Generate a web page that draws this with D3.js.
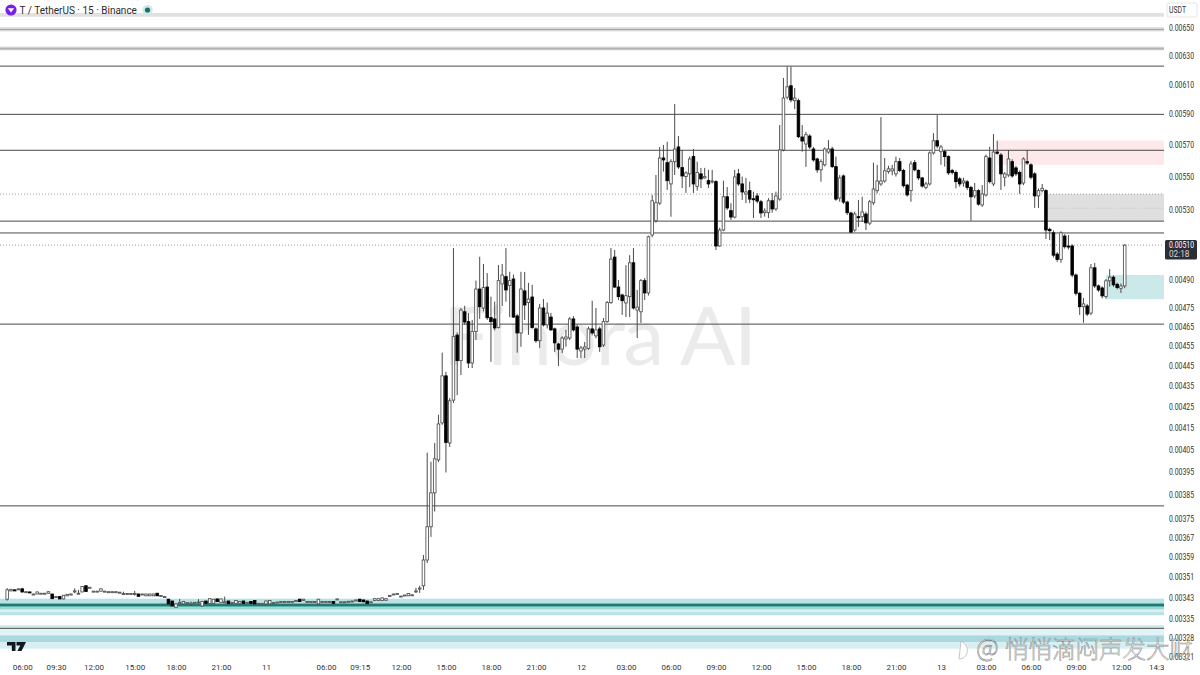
<!DOCTYPE html>
<html>
<head>
<meta charset="utf-8">
<script src="https://cdn.jsdelivr.net/npm/d3@7/dist/d3.min.js"></script>
<style>
html,body{margin:0;padding:0;background:#fff;overflow:hidden}
svg{display:block}
text{font-family:Roboto,"Noto Sans",sans-serif}
</style>
</head>
<body>
<svg id="chart" width="1200" height="675"></svg>
<script>
// Prices are given in millionths of a USDT.
const PRICE_UNIT = 1e-6;

const opens = [
3425,3457,3461,3464,3465,3454,3453,3445,3445,3448,
3448,3448,3445,3435,3435,3426,3438,3445,3456,3447,
3453,3477,3471,3456,3456,3456,3456,3454,3454,3454,
3452,3447,3447,3447,3447,3445,3445,3438,3438,3438,
3448,3439,3435,3425,3418,3394,3408,3407,3412,3410,
3413,3414,3399,3418,3409,3409,3426,3413,3415,3418,
3412,3409,3409,3418,3413,3416,3420,3409,3409,3407,
3407,3412,3414,3416,3416,3416,3416,3420,3425,3420,
3416,3416,3416,3407,3416,3416,3416,3416,3426,3415,
3415,3417,3418,3422,3425,3422,3418,3415,3420,3420,
3420,3421,3439,3445,3447,3437,3441,3438,3442,3456,
3467,3477,3579,3715,3859,4004,4174,4400,4081,4282,
4606,4476,4728,4676,4464,4624,4850,4748,4861,4697,
4690,4645,4878,4918,4869,4905,4706,4617,4840,4777,
4807,4638,4577,4748,4659,4700,4638,4560,4534,4586,
4591,4690,4648,4525,4534,4538,4638,4602,4638,4555,
4676,4777,5027,4861,4818,4775,4809,4995,4737,4728,
4896,4829,5153,5236,5341,5618,5589,5457,5595,5688,
5558,5502,5519,5627,5442,5519,5494,5477,5470,5471,
5090,5182,5379,5296,5258,5519,5457,5396,5416,5367,
5384,5349,5284,5284,5355,5306,5365,5669,6015,6092,
5991,5991,5752,5707,5758,5675,5612,5544,5575,5656,
5675,5564,5371,5506,5347,5282,5182,5260,5260,5276,
5222,5343,5416,5457,5475,5533,5538,5519,5595,5540,
5450,5416,5589,5540,5494,5436,5457,5650,5728,5658,
5658,5627,5540,5528,5488,5463,5470,5436,5384,5416,
5330,5390,5618,5457,5656,5637,5498,5512,5595,5556,
5528,5463,5595,5575,5519,5384,5416,5416,5186,5166,
5044,5014,5147,5090,5090,4927,4827,4755,4759,4721,
4967,4867,4856,4809,4895,4915,4876,4854,4867];

const highs = [
3468,3465,3463,3466,3468,3456,3454,3446,3454,3449,
3449,3455,3446,3436,3436,3441,3445,3446,3467,3461,
3476,3478,3472,3457,3457,3466,3457,3455,3455,3455,
3453,3454,3448,3448,3457,3446,3446,3446,3446,3446,
3449,3440,3436,3426,3419,3408,3426,3417,3413,3416,
3414,3425,3417,3419,3428,3426,3427,3427,3435,3419,
3413,3421,3417,3419,3414,3417,3421,3410,3410,3419,
3421,3413,3415,3417,3417,3417,3417,3421,3426,3426,
3417,3417,3417,3426,3417,3417,3417,3417,3427,3416,
3416,3418,3419,3423,3426,3423,3419,3416,3428,3428,
3431,3428,3440,3446,3448,3438,3442,3448,3443,3469,
3477,3599,4037,3996,4081,4212,4516,4420,4292,5078,
4620,4748,4760,4721,4685,4896,5029,4988,4938,4809,
4782,4982,4988,5078,4945,4930,4715,4945,4944,4884,
4873,4645,4770,4796,4777,4722,4645,4566,4600,4633,
4700,4705,4660,4550,4571,4650,4787,4748,4650,4695,
4785,5078,5067,4900,4825,4982,5038,5078,4845,4905,
4910,5150,5389,5512,5688,5701,5721,5610,5969,5758,
5669,5535,5627,5675,5595,5556,5556,5544,5544,5480,
5195,5477,5438,5340,5544,5550,5502,5494,5471,5410,
5402,5360,5310,5371,5402,5410,5830,6146,6225,6225,
6077,6005,5830,5785,5770,5688,5620,5610,5685,5732,
5690,5627,5512,5515,5355,5290,5290,5359,5379,5290,
5360,5589,5575,5882,5618,5570,5575,5627,5618,5550,
5458,5600,5606,5548,5500,5470,5660,5777,5895,5701,
5670,5635,5550,5540,5500,5495,5480,5445,5463,5425,
5450,5640,5690,5771,5728,5650,5530,5669,5610,5570,
5540,5622,5669,5585,5530,5430,5457,5425,5195,5180,
5055,5175,5158,5153,5100,4935,4835,4802,4770,4988,
4994,4875,4865,4905,4960,4925,4885,4880,5100];

const lows = [
3420,3456,3459,3463,3450,3453,3451,3444,3444,3447,
3447,3447,3426,3434,3425,3425,3437,3444,3448,3445,
3452,3455,3470,3455,3455,3455,3455,3453,3453,3453,
3451,3442,3446,3446,3439,3436,3444,3437,3437,3437,
3437,3438,3434,3407,3399,3394,3405,3406,3411,3399,
3412,3407,3398,3408,3408,3408,3415,3412,3413,3407,
3411,3408,3408,3408,3412,3408,3406,3408,3408,3406,
3406,3411,3413,3415,3415,3415,3415,3419,3415,3419,
3415,3415,3415,3406,3415,3415,3415,3408,3425,3414,
3414,3416,3417,3421,3415,3414,3407,3414,3419,3419,
3419,3420,3438,3444,3446,3436,3440,3437,3441,3449,
3449,3461,3567,3673,3779,3995,4165,3948,4063,4268,
4306,4404,4660,4439,4439,4581,4690,4730,4685,4470,
4630,4640,4759,4782,4700,4695,4516,4546,4685,4607,
4640,4566,4540,4650,4640,4628,4520,4449,4514,4546,
4580,4625,4489,4489,4489,4530,4605,4590,4520,4545,
4670,4770,4855,4791,4711,4700,4700,4740,4591,4669,
4791,4815,5140,5225,5330,5533,5420,5260,5512,5550,
5432,5402,5438,5402,5416,5432,5490,5432,5460,5067,
5085,5175,5300,5240,5250,5445,5359,5341,5341,5252,
5340,5252,5260,5252,5284,5295,5355,5660,6000,5980,
5935,5745,5658,5562,5675,5595,5525,5471,5565,5645,
5555,5355,5349,5335,5270,5165,5172,5200,5230,5182,
5210,5330,5400,5445,5465,5520,5510,5502,5530,5435,
5380,5349,5535,5480,5435,5425,5448,5640,5680,5575,
5564,5512,5515,5430,5440,5440,5420,5236,5370,5325,
5318,5380,5460,5444,5640,5420,5442,5500,5495,5505,
5396,5450,5575,5485,5312,5312,5405,5130,5124,5025,
5000,4995,5075,5070,4915,4815,4711,4670,4705,4710,
4855,4835,4800,4798,4863,4862,4848,4829,4855];

const closes = [
3461,3463,3460,3465,3453,3454,3452,3445,3453,3448,
3448,3454,3427,3435,3426,3440,3444,3445,3457,3448,
3474,3455,3471,3456,3456,3465,3456,3454,3454,3454,
3452,3447,3447,3447,3447,3436,3445,3445,3445,3445,
3438,3439,3435,3407,3399,3407,3412,3416,3412,3410,
3413,3414,3416,3409,3427,3425,3416,3426,3415,3408,
3412,3420,3416,3409,3413,3409,3407,3409,3409,3418,
3420,3412,3414,3416,3416,3416,3416,3420,3416,3425,
3416,3416,3416,3425,3416,3416,3416,3409,3426,3415,
3415,3417,3418,3422,3416,3415,3408,3415,3427,3427,
3430,3427,3439,3445,3447,3437,3441,3447,3442,3457,
3468,3579,3715,3859,4009,4169,4400,4083,4279,4598,
4476,4737,4674,4464,4624,4850,4755,4858,4697,4676,
4643,4896,4927,4845,4896,4700,4617,4850,4764,4796,
4645,4577,4748,4659,4721,4633,4566,4534,4591,4596,
4690,4633,4534,4540,4545,4638,4617,4633,4546,4676,
4777,5016,4861,4809,4787,4814,4995,4748,4753,4896,
4829,5143,5355,5343,5618,5606,5477,5595,5675,5562,
5506,5525,5612,5457,5528,5488,5502,5457,5475,5090,
5182,5379,5312,5258,5500,5457,5408,5408,5365,5361,
5353,5282,5294,5355,5306,5384,5669,6009,6085,5996,
6009,5754,5726,5767,5688,5606,5544,5595,5675,5675,
5564,5365,5494,5347,5284,5170,5276,5254,5288,5224,
5349,5426,5475,5475,5538,5550,5550,5595,5540,5446,
5390,5581,5544,5494,5444,5457,5650,5728,5694,5688,
5627,5525,5528,5471,5457,5475,5436,5379,5416,5335,
5396,5627,5471,5656,5648,5519,5519,5612,5506,5519,
5457,5612,5587,5498,5384,5416,5430,5182,5178,5038,
5014,5166,5086,5084,4927,4827,4755,4770,4716,4967,
4867,4845,4813,4895,4915,4873,4858,4867,5095];

const priceTicks = [0.0065,0.0063,0.0061,0.0059,0.0057,0.0055,0.0053,0.0049,0.00475,0.00465,0.00455,0.00445,0.00435,0.00425,0.00415,0.00405,0.00395,0.00385,0.00375,0.00367,0.00359,0.00351,0.00343,0.00335,0.00328,0.00321];
const timeTickBars = [4,13,23,34,45,57,69,85,94,105,117,129,141,153,165,177,189,201,213,225,237,249,261,273,285,297,307];
const timeTickLabels = ["06:00","09:30","12:00","15:00","18:00","21:00","11","06:00","09:15","12:00","15:00","18:00","21:00","12","03:00","06:00","09:00","12:00","15:00","18:00","21:00","13","03:00","06:00","09:00","12:00","14:30"];

const solidLevels = [6228,5900,5667,5234,5165,4663,3803,3315];
const dottedLevels = [5395,5095];
const greyBandTops = [6610,6505,6365];
const greyBandBottoms = [6583,6476,6340];
const greyBandColors = ["#e1e1e1","#d6d6d6","#cfcfcf"];
const greyCoreLevels = [6489,6350];

const tealBandTops = [3427,3410,3395,3385,3376,3327,3315,3289,3264];
const tealBandBottoms = [3410,3395,3385,3376,3364,3315,3289,3264,3240];
const tealBandColors = ["#b8e2e3","#57b5ac","#9fd6d1","#dbf0f2","#bbe1e6","#cfecef","#e2f3f5","#a9d9df","#d8eff2"];
const tealCoreLevels = [3403];

const zoneStartBars = [264,277.5,293];
const zoneTops = [5730,5395,4927];
const zoneBottoms = [5575,5236,4795];
const zoneColors = ["#fde9e9","#dfdfdf","#cbe9e9"];
const greyZoneMidLevel = 5310;

const lastPrice = 0.0051;
const lastPriceLevel = 5095;
const countdown = "02:18";

const PANE_RIGHT = 1164;
const svg = d3.select("#chart");

const x = d3.scaleLinear().domain([0, opens.length - 1]).range([7.2, 1124.7]);
const yPrice = d3.scaleLog().domain([0.0065, 0.00321]).range([28, 657]);
const y = v => yPrice(v * PRICE_UNIT);

svg.append("defs").append("clipPath").attr("id","pane")
  .append("rect").attr("x",0).attr("y",0).attr("width",PANE_RIGHT).attr("height",675);

const pane = svg.append("g").attr("clip-path","url(#pane)");

// Big watermark
pane.append("text").attr("x",443).attr("y",365)
  .attr("font-size",82).attr("fill","#ebebeb")
  .style("font-family","Lato,Roboto,sans-serif").attr("textLength",314)
  .text("Finora AI");

// Grey bands at the top
pane.selectAll(".gb").data(greyBandTops).join("rect")
  .attr("x",0).attr("width",PANE_RIGHT)
  .attr("y",d=>y(d))
  .attr("height",(d,i)=>y(greyBandBottoms[i])-y(d))
  .attr("fill",(d,i)=>greyBandColors[i]);
pane.selectAll(".gc").data(greyCoreLevels).join("line")
  .attr("x1",0).attr("x2",PANE_RIGHT).attr("y1",d=>y(d)).attr("y2",d=>y(d))
  .attr("stroke","#a8a8a8").attr("stroke-width",1);

// Teal bands at the bottom
pane.selectAll(".tb").data(tealBandTops).join("rect")
  .attr("x",0).attr("width",PANE_RIGHT)
  .attr("y",d=>y(d))
  .attr("height",(d,i)=>y(tealBandBottoms[i])-y(d))
  .attr("fill",(d,i)=>tealBandColors[i]);
pane.selectAll(".tc").data(tealCoreLevels).join("line")
  .attr("x1",0).attr("x2",PANE_RIGHT).attr("y1",d=>y(d)).attr("y2",d=>y(d))
  .attr("stroke","#17635c").attr("stroke-width",1.4);

// Zones that start at a bar and extend right
pane.selectAll(".z").data(zoneStartBars).join("rect")
  .attr("x",d=>x(d)).attr("width",d=>PANE_RIGHT-x(d))
  .attr("y",(d,i)=>y(zoneTops[i]))
  .attr("height",(d,i)=>y(zoneBottoms[i])-y(zoneTops[i]))
  .attr("fill",(d,i)=>zoneColors[i]);
pane.append("line").attr("x1",x(zoneStartBars[1])).attr("x2",PANE_RIGHT)
  .attr("y1",y(greyZoneMidLevel)).attr("y2",y(greyZoneMidLevel))
  .attr("stroke","#bdbdbd").attr("stroke-dasharray","1 2").attr("stroke-width",.8);

// Levels
pane.selectAll(".lv").data(solidLevels).join("line")
  .attr("x1",0).attr("x2",PANE_RIGHT).attr("y1",d=>y(d)).attr("y2",d=>y(d))
  .attr("stroke","#4a4a4a").attr("stroke-width",1);
pane.selectAll(".dl").data(dottedLevels).join("line")
  .attr("x1",0).attr("x2",PANE_RIGHT).attr("y1",d=>y(d)).attr("y2",d=>y(d))
  .attr("stroke","#9a9a9a").attr("stroke-width",1).attr("stroke-dasharray","1 2");

// Candles
const bars = pane.append("g").selectAll("g").data(opens).join("g");
bars.append("line")
  .attr("x1",(d,i)=>x(i)).attr("x2",(d,i)=>x(i))
  .attr("y1",(d,i)=>y(highs[i])).attr("y2",(d,i)=>y(lows[i]))
  .attr("stroke","#4a4a4a").attr("stroke-width",1);
bars.append("rect")
  .attr("x",(d,i)=>x(i)-1.3).attr("width",2.6)
  .attr("y",(d,i)=>Math.min(y(opens[i]),y(closes[i])))
  .attr("height",(d,i)=>Math.max(1,Math.abs(y(opens[i])-y(closes[i]))))
  .attr("fill",(d,i)=>closes[i]>=opens[i]?"#ffffff":"#000000")
  .attr("stroke",(d,i)=>closes[i]>=opens[i]?"#4f4f4f":"#000000")
  .attr("stroke-width",.85);

// Time axis
const timeAxis = d3.axisBottom(x).tickValues(timeTickBars)
  .tickFormat((d,i)=>timeTickLabels[i]).tickSize(0).tickPadding(0);
const gx = pane.append("g").attr("transform","translate(0,664)").call(timeAxis);
gx.select(".domain").remove();
gx.selectAll("text").attr("font-size",8).attr("fill","#333").attr("dy","0.32em").attr("y",3.8)
  .style("font-family","Roboto,sans-serif");

// Price axis
const priceAxis = d3.axisRight(yPrice).tickValues(priceTicks)
  .tickFormat(d3.format(".5f")).tickSize(0).tickPadding(0);
const gy = svg.append("g").attr("transform","translate(1169,0)").call(priceAxis);
gy.select(".domain").remove();
gy.selectAll("text").attr("font-size",8.2).attr("fill","#333")
  .attr("textLength",25).attr("lengthAdjust","spacingAndGlyphs")
  .style("font-family","Roboto,sans-serif");

// USDT box
svg.append("rect").attr("x",1167).attr("y",3).attr("width",30).attr("height",14).attr("rx",2)
  .attr("fill","#fff").attr("stroke","#e6e6e6");
svg.append("text").attr("x",1169).attr("y",13).attr("font-size",8.2).attr("fill","#333")
  .attr("textLength",17).attr("lengthAdjust","spacingAndGlyphs").text("USDT");

// Last price label
const ly = y(lastPriceLevel);
svg.append("rect").attr("x",1165).attr("y",ly-5).attr("width",32).attr("height",19.5).attr("rx",1.5).attr("fill","#2a2e39");
svg.append("text").attr("x",1169).attr("y",ly+3).attr("font-size",8.2).attr("fill","#ffffff")
  .attr("textLength",25).attr("lengthAdjust","spacingAndGlyphs").text(d3.format(".5f")(lastPrice));
svg.append("text").attr("x",1169).attr("y",ly+12).attr("font-size",8.2).attr("fill","#d8d8d8").text(countdown);

// Header
svg.append("circle").attr("cx",11).attr("cy",10).attr("r",5.6).attr("fill","#7a1fe6");
svg.append("path").attr("d","M7.8 8.2 H14.2 L11 12.6 Z").attr("fill","#fff");
svg.append("text").attr("x",19.5).attr("y",14).attr("font-size",10).attr("fill","#2a2a2a")
  .text("T / TetherUS · 15 · Binance");
svg.append("circle").attr("cx",147.5).attr("cy",10).attr("r",5.2).attr("fill","#cfe9e8");
svg.append("circle").attr("cx",147.5).attr("cy",10).attr("r",2.6).attr("fill","#1f6f68");

// TradingView logo
svg.append("path").attr("d","M7 642 H15.5 V651 H11.8 V645.5 H7 Z M16.5 642 H26 L21.5 651 H17.3 L20.3 645.5 H16.5 Z").attr("fill","#131722");

// Re-post watermark
const wm = svg.append("g");
wm.append("path").attr("d","M961 641 q8 5 6 12 q-2 6 -8 6 Z").attr("fill","#fff").attr("stroke","#b0b0b0").attr("stroke-width",.7);
wm.append("text").attr("x",976).attr("y",657).attr("font-size",25)
  .style("font-family","'Noto Sans CJK SC',sans-serif").attr("font-weight",300)
  .attr("fill","rgba(255,255,255,.9)").attr("stroke","rgba(95,95,95,.8)").attr("stroke-width",.6)
  .text("@");
wm.append("text").attr("x",1005).attr("y",658).attr("font-size",23.5)
  .style("font-family","'Noto Sans CJK SC',sans-serif").attr("font-weight",300)
  .attr("fill","rgba(255,255,255,.85)").attr("stroke","rgba(95,95,95,.75)").attr("stroke-width",.55)
  .text("悄悄滴闷声发大财");
</script>
</body>
</html>
